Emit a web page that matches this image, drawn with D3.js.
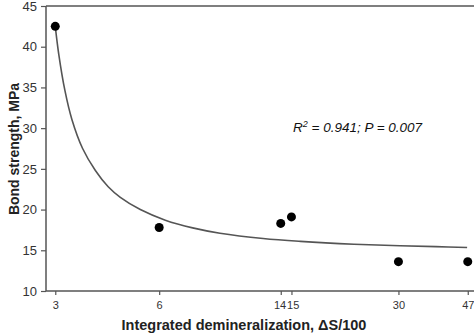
<!DOCTYPE html>
<html><head><meta charset="utf-8">
<script src="https://cdn.jsdelivr.net/npm/d3@7"></script>
<style>body{margin:0;background:#fff}svg{display:block}</style>
</head><body>
<svg id="c" width="474" height="334"></svg>
<script>
// Data
const demin = [3, 6, 13.5, 14.5, 29.6, 47];
const bond = [42.5, 17.8, 18.3, 19.1, 13.6, 13.6];
const xTickValues = [3, 6, 13.5, 14.5, 29.6, 47];
const xTickLabels = ["3", "6", "14", "15", "30", "47"];
const yTickValues = [10, 15, 20, 25, 30, 35, 40, 45];
const fitX = [3, 3.07, 3.2, 3.35, 3.6, 3.92, 4.27, 4.63, 5.29, 6.25, 7.5, 9.0, 12, 15.4, 22, 29.9, 38, 46.8];
const fitY = [42.5, 39.1, 34.6, 31.1, 27.5, 24.8, 22.8, 21.5, 20.0, 18.7, 17.75, 17.1, 16.45, 16.1, 15.75, 15.55, 15.45, 15.35];

const svg = d3.select("#c");
const x = d3.scaleLog().domain([2.82, 49]).range([46, 474]);
const y = d3.scaleLinear().domain([10, 45]).range([291, 6]);
const axisColor = "#555";
const font = "Arial, 'Liberation Sans', sans-serif";

// frame
svg.append("line").attr("x1", 46).attr("x2", 474).attr("y1", 6).attr("y2", 6)
  .attr("stroke", axisColor).attr("stroke-width", 1.5);

const gy = svg.append("g").attr("transform", "translate(46,0)")
  .call(d3.axisLeft(y).tickValues(yTickValues).tickSize(5).tickPadding(4).tickFormat(d3.format("d")));
const gx = svg.append("g").attr("transform", "translate(0,291)")
  .call(d3.axisBottom(x).tickValues(xTickValues).tickSize(4).tickPadding(6)
    .tickFormat((d, i) => xTickLabels[i]));
[gx, gy].forEach(g => {
  g.select(".domain").attr("stroke", axisColor).attr("stroke-width", 1.5);
  g.selectAll(".tick line").attr("stroke", axisColor).attr("stroke-width", 1.2);
  g.selectAll("text").attr("fill", "#333").attr("font-family", font);
});
gy.select(".domain").attr("d", "M0,291V6");
gx.select(".domain").attr("d", "M46,0H474");
gy.selectAll("text").attr("font-size", 13);
gx.selectAll("text").attr("font-size", 11);
// keep the adjacent "14" and "15" labels from overlapping
gx.selectAll(".tick text").attr("dx", (d, i) => i === 2 ? -1.2 : i === 3 ? 1.2 : 0);

// fit curve
const pts = fitX.map((d, i) => [d, fitY[i]]);
svg.append("path").datum(pts)
  .attr("d", d3.line().x(d => x(d[0])).y(d => y(d[1])).curve(d3.curveCatmullRom.alpha(0.5)))
  .attr("fill", "none").attr("stroke", "#555").attr("stroke-width", 1.6);

// points
svg.selectAll("circle.pt").data(demin).enter().append("circle")
  .attr("cx", d => x(d)).attr("cy", (d, i) => y(bond[i])).attr("r", 4.5).attr("fill", "#000");

// annotation
const ann = svg.append("text").attr("x", 293).attr("y", 132)
  .attr("font-family", font).attr("font-size", 13.5)
  .attr("font-style", "italic").attr("fill", "#111");
ann.append("tspan").text("R");
ann.append("tspan").attr("dy", -5).attr("font-size", 9).text("2");
ann.append("tspan").attr("dy", 5).text(" = 0.941; P = 0.007");

// axis titles
svg.append("text").attr("x", 244).attr("y", 330).attr("text-anchor", "middle")
  .attr("font-family", font).attr("font-size", 14.5)
  .attr("font-weight", "bold").attr("fill", "#222").text("Integrated demineralization, ΔS/100");
svg.append("text").attr("transform", "translate(19,149) rotate(-90)").attr("text-anchor", "middle")
  .attr("font-family", font).attr("font-size", 14)
  .attr("font-weight", "bold").attr("fill", "#222").text("Bond strength, MPa");
</script>
</body></html>
